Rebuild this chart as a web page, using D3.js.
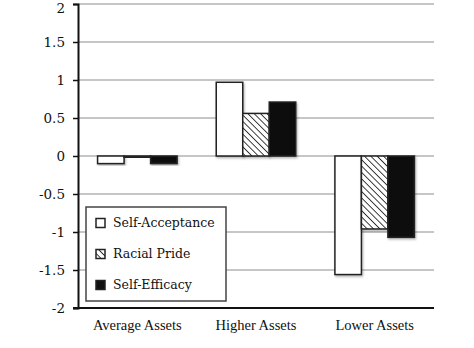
<!DOCTYPE html>
<html><head><meta charset="utf-8">
<script src="https://cdn.jsdelivr.net/npm/d3@7"></script>
<style>body{margin:0;background:#fff;}svg{display:block;}</style>
</head><body>
<script>
const categories = ["Average Assets", "Higher Assets", "Lower Assets"];
const seriesNames = ["Self-Acceptance", "Racial Pride", "Self-Efficacy"];
const selfAcceptance = [-0.1, 0.97, -1.56];
const racialPride = [-0.02, 0.56, -0.96];
const selfEfficacy = [-0.1, 0.71, -1.07];
const yTicks = [-2, -1.5, -1, -0.5, 0, 0.5, 1, 1.5, 2];
const seriesValues = [selfAcceptance, racialPride, selfEfficacy];

const W = 474, H = 348;
const svg = d3.select("body").append("svg").attr("width", W).attr("height", H);
const defs = svg.append("defs");
const pat = defs.append("pattern").attr("id","hatch").attr("patternUnits","userSpaceOnUse")
  .attr("width",4.5).attr("height",4.5).attr("patternTransform","rotate(-45)");
pat.append("rect").attr("width",4.5).attr("height",4.5).attr("fill","#fff");
pat.append("line").attr("x1",0).attr("y1",0).attr("x2",0).attr("y2",4.5)
  .attr("stroke","#111").attr("stroke-width",1.6);
const flt = defs.append("filter").attr("id","sh").attr("x","-20%").attr("y","-20%").attr("width","140%").attr("height","140%");
flt.append("feDropShadow").attr("dx",1).attr("dy",1.5).attr("stdDeviation",1).attr("flood-color","#000").attr("flood-opacity",0.3);

const x0 = 78, x1 = 434;
const y = d3.scaleLinear().domain([-2, 2]).range([308, 4]);
const xb = d3.scaleBand().domain(categories).range([x0, x1]).paddingInner(0.33).paddingOuter(0.165);
const xs = d3.scaleBand().domain(seriesNames).range([0, xb.bandwidth()]);

// gridlines
svg.append("g").selectAll("line").data(yTicks.filter(d => d !== -2)).join("line")
  .attr("x1", x0).attr("x2", x1).attr("y1", d => y(d)).attr("y2", d => y(d))
  .attr("stroke", "#b3b3b3").attr("stroke-width", 1.5);

// y axis
const yAxis = d3.axisLeft(y).tickValues(yTicks).tickSize(5).tickPadding(8)
  .tickFormat(d => String(d));
const ga = svg.append("g").attr("transform", `translate(${x0},0)`).call(yAxis);
ga.select(".domain").attr("stroke", "#111").attr("stroke-width", 2);
ga.selectAll(".tick line").attr("stroke", "#111").attr("stroke-width", 1.5);
ga.selectAll(".tick text").attr("font-family", "'DejaVu Serif', serif").attr("font-size", 13.5).attr("fill", "#111")
  .attr("dy", d => d === 2 ? "0.62em" : "0.32em");

// bars
const fills = ["#fff", "url(#hatch)", "#111"];
const gg = svg.append("g").selectAll("g").data(categories).join("g")
  .attr("transform", d => `translate(${xb(d)},0)`);
gg.selectAll("rect").data((c, i) => seriesNames.map((s, j) => ({s, j, v: seriesValues[j][i]}))).join("rect")
  .attr("x", d => xs(d.s)).attr("width", xs.bandwidth())
  .attr("y", d => y(Math.max(0, d.v))).attr("height", d => Math.abs(y(d.v) - y(0)))
  .attr("fill", d => fills[d.j]).attr("stroke", "#222").attr("stroke-width", 1.5)
  .attr("filter", "url(#sh)");

// x axis
svg.append("line").attr("x1", x0 - 5).attr("x2", x1).attr("y1", y(-2)).attr("y2", y(-2))
  .attr("stroke", "#111").attr("stroke-width", 2);
svg.append("g").selectAll("text").data(categories).join("text")
  .attr("x", d => xb(d) + xb.bandwidth() / 2).attr("y", 330).attr("text-anchor", "middle")
  .attr("font-family", "'Liberation Serif', serif").attr("font-size", 14.5).attr("fill", "#111")
  .text(d => d);

// legend
const lg = svg.append("g");
lg.append("rect").attr("x", 86).attr("y", 207).attr("width", 140).attr("height", 94)
  .attr("fill", "#fff").attr("stroke", "#444").attr("stroke-width", 1.5);
const li = lg.selectAll("g").data(seriesNames).join("g")
  .attr("transform", (d, i) => `translate(96,${223 + i * 31})`);
li.append("rect").attr("x", 0).attr("y", -4.5).attr("width", 9).attr("height", 9)
  .attr("fill", (d, i) => fills[i]).attr("stroke", "#222").attr("stroke-width", 1.5);
li.append("text").attr("x", 17).attr("y", 0).attr("dy", "0.35em")
  .attr("font-family", "'DejaVu Serif', serif").attr("font-size", 12.5).attr("fill", "#111")
  .text(d => d);
</script>
</body></html>
